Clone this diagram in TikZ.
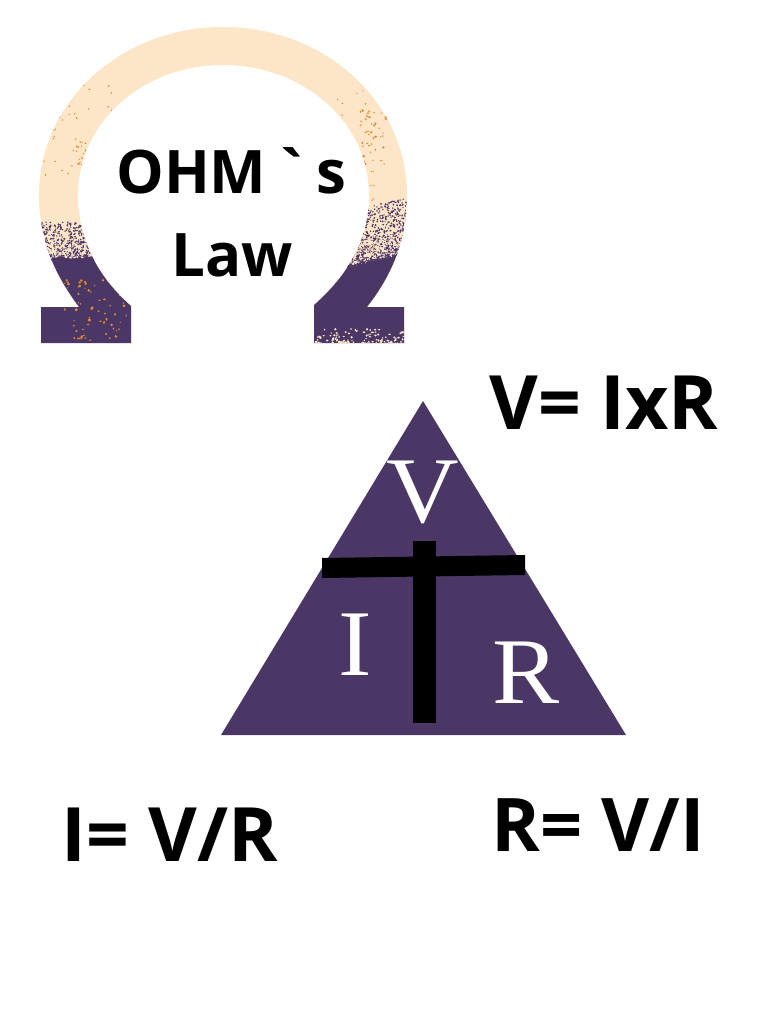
\documentclass[tikz,border=0pt]{standalone}
\usepackage{fontspec}
\setmainfont{Open Sans}
\newfontfamily\plainface{Open Sans}
\newfontfamily\serifface{Liberation Serif}
\definecolor{peach}{HTML}{FDE5C8}
\definecolor{plum}{HTML}{4B3766}
\definecolor{speck}{HTML}{E08A2E}
\def\omegapath{(79,307) .. controls (55,275) and (39,240) .. (39,195)
 .. controls (39,102) and (121,27) .. (223,27)
 .. controls (325,27) and (407,102) .. (407,195)
 .. controls (407,240) and (392,275) .. (367,307)
 -- (404,307) -- (404,343) -- (314,343) -- (314,305)
 .. controls (348,275) and (369,240) .. (369,195)
 .. controls (369,122) and (303,65) .. (223,65)
 .. controls (143,65) and (78,122) .. (78,195)
 .. controls (78,240) and (98,277) .. (131,306)
 -- (131,343) -- (41,343) -- (41,307) -- cycle}
% #1 colour, #2 count, #3 xmin, #4 xmax, #5 ybottom at xmin, #6 slope, #7 height, #8 power, #9 max size
\newcommand{\speckles}[9]{%
 \foreach \n in {1,...,#2}{%
  \pgfmathsetmacro\sx{#3+rnd*(#4-#3)}%
  \pgfmathsetmacro\sy{#5+#6*(\sx-#3)-#7*pow(rnd,#8)}%
  \pgfmathsetmacro\sa{0.6+rnd*#9}%
  \pgfmathsetmacro\sb{0.6+rnd*#9}%
  \fill[#1] (\sx,\sy) ellipse [x radius=\sa,y radius=\sb];
 }}
\tikzset{
 headline/.style={font=\fontsize{#1}{#1}\selectfont\bfseries,text=black,inner sep=0pt,anchor=base},
 letter/.style={font=\serifface\fontsize{94}{94}\selectfont,text=white,inner sep=0pt,anchor=base,xscale=1.07},
 barstyle/.style={fill=black,draw=none}
}
\begin{document}
\begin{tikzpicture}[x=1pt,y=-1pt]
\useasboundingbox (0,0) rectangle (768,1024);
\fill[white] (0,0) rectangle (768,1024);
\pgfmathsetseed{4217}
\begin{scope}
 \clip \omegapath;
 \fill[peach] (0,0) rectangle (768,400);
 \fill[plum] (30,258) -- (135,255) -- (135,350) -- (30,350) -- cycle;
 \fill[plum] (305,270) -- (350,267) -- (410,253) -- (410,350) -- (305,350) -- cycle;
 \speckles{plum}{800}{38}{105}{260}{0}{38}{1.9}{0.5}
 \speckles{plum}{1100}{345}{410}{268}{-0.23}{56}{1.9}{0.5}
 \speckles{peach}{110}{38}{105}{258}{0}{14}{1}{0.7}
 \speckles{peach}{160}{345}{410}{266}{-0.23}{24}{1}{0.8}
 \speckles{peach}{170}{315}{404}{344}{0}{15}{2.6}{0.8}
 \speckles{speck}{70}{62}{130}{342}{0}{62}{1}{1.1}
 \speckles{speck}{42}{360}{386}{165}{0}{60}{1}{0.9}
 \speckles{speck}{14}{328}{372}{130}{0}{50}{1}{0.3}
 \speckles{speck}{60}{42}{126}{185}{0}{102}{1}{0.4}
 \speckles{speck}{16}{70}{86}{168}{0}{28}{1}{0.7}
 \speckles{speck}{10}{370}{374}{250}{0}{90}{1}{0.2}
\end{scope}
\node[headline=60] (title1) at (231.5,194) {OHM\kern7pt{\plainface\bfseries\char96}\kern7pt s};
\node[headline=60] (title2) at (232,276) {Law};
\node[headline=75] (eqv) at (604,429) {V= IxR};
\node[headline=75] (eqi) at (170,861) {I= V/R};
\node[headline=74] (eqr) at (598,851) {R= V/I};
\fill[plum] (423,401) -- (626,735) -- (221,735) -- cycle;
\node[letter] (lv) at (423,522) {V};
\node[letter] (li) at (355,675) {I};
\node[letter] (lr) at (526,703) {R};
\fill[barstyle] (322,558) -- (525,555) -- (525,575) -- (322,578) -- cycle;
\fill[barstyle] (413,541) rectangle (436,723);
\end{tikzpicture}
\end{document}
